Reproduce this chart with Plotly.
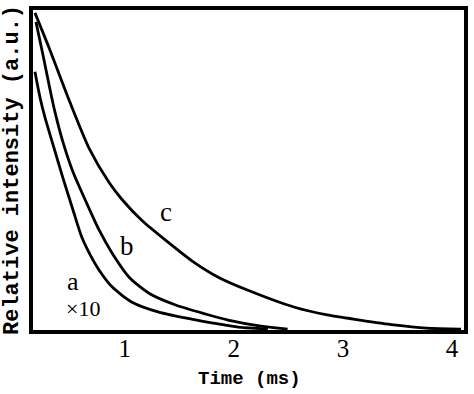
import plotly.graph_objects as go

# Time (ms) and relative intensity
t_a = [0.177, 0.223, 0.268, 0.341, 0.431, 0.522, 0.604, 0.686, 0.767, 0.886, 1.067, 1.312, 1.612, 1.857, 2.039, 2.312]
i_a = [0.807, 0.727, 0.665, 0.581, 0.478, 0.379, 0.292, 0.233, 0.186, 0.134, 0.087, 0.056, 0.034, 0.019, 0.009, 0.003]

t_b = [0.186, 0.250, 0.313, 0.359, 0.431, 0.522, 0.649, 0.767, 0.886, 1.040, 1.222, 1.467, 1.739, 1.948, 2.248, 2.493]
i_b = [0.963, 0.860, 0.755, 0.683, 0.590, 0.497, 0.398, 0.311, 0.239, 0.165, 0.115, 0.078, 0.050, 0.031, 0.012, 0.003]

t_c = [0.177, 0.313, 0.495, 0.677, 0.858, 0.977, 1.158, 1.376, 1.612, 1.857, 2.130, 2.557, 2.856, 3.156, 3.465, 3.765, 4.083]
i_c = [0.991, 0.876, 0.714, 0.565, 0.460, 0.407, 0.342, 0.280, 0.217, 0.165, 0.124, 0.071, 0.047, 0.031, 0.016, 0.006, 0.003]

tick_vals = [1, 2, 3, 4]
tick_text = ["1", "2", "3", "4"]

curve_labels = ["a", "b", "c", "×10"]
label_x = [0.522, 1.022, 1.376, 0.613]
label_y = [0.152, 0.264, 0.370, 0.068]
label_size = [26, 27, 27, 22]

fig = go.Figure()
for t, i in [(t_a, i_a), (t_b, i_b), (t_c, i_c)]:
    fig.add_trace(go.Scatter(x=t, y=i, mode="lines",
                             line=dict(color="black", width=2.8, shape="spline", smoothing=0.7),
                             showlegend=False, hoverinfo="skip"))

for txt, x, y, s in zip(curve_labels, label_x, label_y, label_size):
    fig.add_annotation(x=x, y=y, text=txt, showarrow=False,
                       font=dict(family="Liberation Serif", size=s, color="black"),
                       xanchor="center", yanchor="middle")

fig.add_annotation(xref="paper", yref="paper", x=0, y=0.5, xshift=-21,
                   text="Relative intensity (a.u.)", textangle=-90, showarrow=False,
                   font=dict(family="Liberation Mono", size=22, color="black", weight="bold"),
                   xanchor="center", yanchor="middle")
fig.add_annotation(xref="paper", yref="paper", x=0.503, y=-0.152,
                   text="Time (ms)", showarrow=False,
                   font=dict(family="Liberation Mono", size=19, color="black", weight="bold"),
                   xanchor="center", yanchor="middle")

fig.update_xaxes(range=[0.159, 4.110], tickvals=tick_vals, ticktext=tick_text,
                 showgrid=False, zeroline=False, showline=True, linecolor="black",
                 linewidth=4, mirror=True, ticks="", ticklabelstandoff=-7,
                 tickfont=dict(family="Liberation Serif", size=25, color="black"))
fig.update_yaxes(range=[0.0, 1.0], showticklabels=False, showgrid=False, zeroline=False,
                 showline=True, linecolor="black", linewidth=4, mirror=True, ticks="")

fig.update_layout(width=474, height=394, margin=dict(l=33, r=6, t=8, b=64),
                  plot_bgcolor="white", paper_bgcolor="white")

fig.write_html("out.html")
